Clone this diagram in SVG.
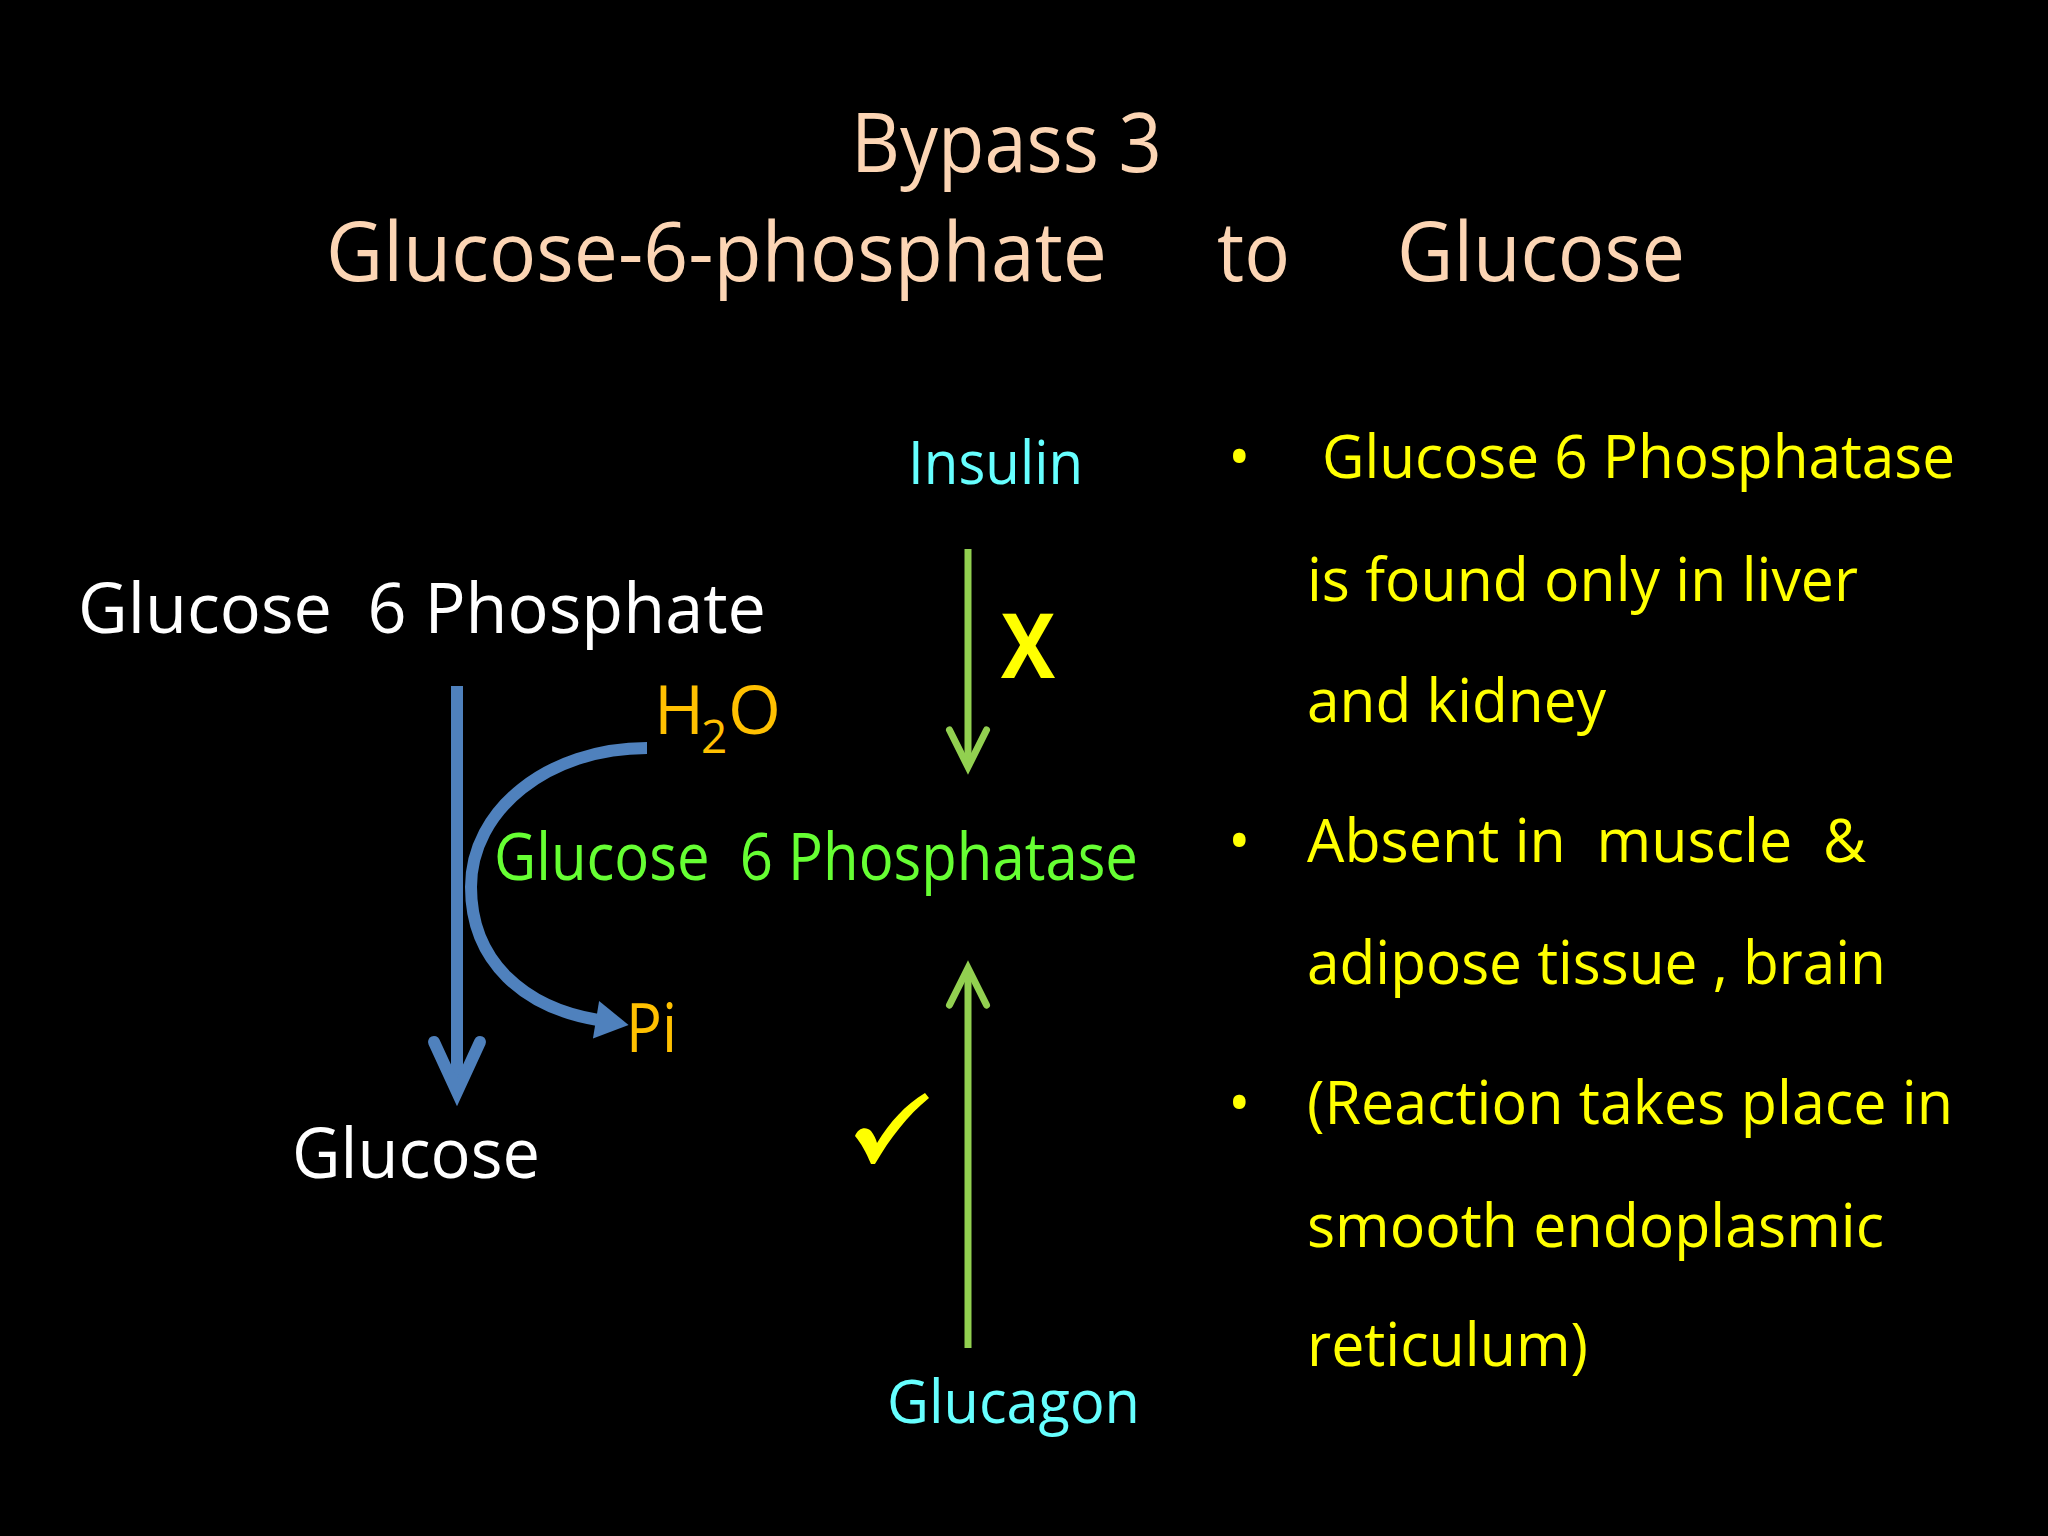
<svg xmlns="http://www.w3.org/2000/svg" width="2048" height="1536" viewBox="0 0 2048 1536">
<style>
text{font-family:"Open Sans","Noto Sans","Liberation Sans",sans-serif;white-space:pre;}
.title{fill:#FCD5B4;font-size:82px;}
.white{fill:#FFFFFF;font-size:70px;}
.orange{fill:#FFC000;font-size:68px;}
.enzyme{fill:#66FF33;font-size:66px;}
.hormone{fill:#66FFFF;font-size:61px;}
.note{fill:#FFFF00;font-size:60px;}
.blue{fill:none;stroke:#4F81BD;stroke-width:12;}
.green{fill:none;stroke:#92D050;stroke-width:7;}
</style>
<defs>
<marker id="chevBlue" markerUnits="userSpaceOnUse" orient="auto" refX="0" refY="0" markerWidth="10" markerHeight="10" overflow="visible">
<path d="M -50 -23 L 0 0 L -50 23" fill="none" stroke="#4F81BD" stroke-width="12" stroke-linecap="round" stroke-linejoin="miter"/>
</marker>
<marker id="chevGreen" markerUnits="userSpaceOnUse" orient="auto" refX="0" refY="0" markerWidth="10" markerHeight="10" overflow="visible">
<path d="M -37 -18.5 L 0 0 L -37 18.5" fill="none" stroke="#92D050" stroke-width="7" stroke-linecap="round" stroke-linejoin="miter"/>
</marker>
<marker id="triBlue" markerUnits="userSpaceOnUse" orient="auto" refX="0" refY="0" markerWidth="10" markerHeight="10" overflow="visible">
<path d="M -2 -19 L 31 0 L -2 19 Z" fill="#4F81BD"/>
</marker>
</defs>
<rect width="2048" height="1536" fill="#000000"/>

<g id="title">
<text class="title" x="851" y="172" textLength="311" lengthAdjust="spacingAndGlyphs">Bypass 3</text>
<text class="title" x="326" y="281" textLength="781" lengthAdjust="spacingAndGlyphs">Glucose-6-phosphate</text>
<text class="title" x="1217" y="281" textLength="73" lengthAdjust="spacingAndGlyphs">to</text>
<text class="title" x="1397" y="281" textLength="288" lengthAdjust="spacingAndGlyphs">Glucose</text>
</g>

<g id="connectors">
<path id="main-arrow" class="blue" d="M 457 686 L 457 1092" marker-end="url(#chevBlue)"/>
<path id="side-arrow" class="blue" d="M 647 748 C 548 748 471 810 471 887 C 471 962 525 1008 598 1020" marker-end="url(#triBlue)"/>
<path id="insulin-arrow" class="green" d="M 968 549 L 968 767" marker-end="url(#chevGreen)"/>
<path id="glucagon-arrow" class="green" d="M 968 1348 L 968 968" marker-end="url(#chevGreen)"/>
</g>

<g id="node-g6p">
<text class="white" x="78" y="633" xml:space="preserve" textLength="688" lengthAdjust="spacingAndGlyphs">Glucose  6 Phosphate</text>
</g>
<g id="node-h2o">
<text class="orange" y="734"><tspan x="654">H</tspan><tspan x="701" y="753" font-size="46">2</tspan><tspan x="728" y="734">O</tspan></text>
</g>
<g id="node-enzyme">
<text class="enzyme" x="494" y="880" xml:space="preserve" textLength="644" lengthAdjust="spacingAndGlyphs">Glucose  6 Phosphatase</text>
</g>
<g id="node-pi">
<text class="orange" x="626" y="1052" textLength="51" lengthAdjust="spacingAndGlyphs">Pi</text>
</g>
<g id="node-glucose">
<text class="white" x="292" y="1178" textLength="248" lengthAdjust="spacingAndGlyphs">Glucose</text>
</g>
<g id="node-insulin">
<text class="hormone" x="908" y="484" textLength="175" lengthAdjust="spacingAndGlyphs">Insulin</text>
</g>
<g id="node-glucagon">
<text class="hormone" x="887" y="1423" textLength="253" lengthAdjust="spacingAndGlyphs">Glucagon</text>
</g>

<g id="marks">
<text x="1001" y="678" fill="#FFFF00" font-size="90" font-weight="700" textLength="54" lengthAdjust="spacingAndGlyphs">X</text>
<path d="M 855 1136 C 858 1128 866 1126 871 1131 C 874 1135 876 1139 877 1143 C 890 1122 905 1105 925 1093 L 929 1098 C 908 1115 890 1138 875 1164 L 871 1164 C 866 1152 861 1143 855 1136 Z" fill="#FFFF00"/>
</g>

<g id="notes">
<text class="note" x="1228" y="478">•</text>
<text class="note" x="1322" y="478" textLength="633" lengthAdjust="spacingAndGlyphs">Glucose 6 Phosphatase</text>
<text class="note" x="1307" y="601" textLength="551" lengthAdjust="spacingAndGlyphs">is found only in liver</text>
<text class="note" x="1307" y="722" textLength="299" lengthAdjust="spacingAndGlyphs">and kidney</text>
<text class="note" x="1228" y="862">•</text>
<text class="note" x="1307" y="862" xml:space="preserve" textLength="559" lengthAdjust="spacingAndGlyphs">Absent in  muscle  &amp;</text>
<text class="note" x="1307" y="984" textLength="579" lengthAdjust="spacingAndGlyphs">adipose tissue , brain</text>
<text class="note" x="1228" y="1124">•</text>
<text class="note" x="1307" y="1124" textLength="646" lengthAdjust="spacingAndGlyphs">(Reaction takes place in</text>
<text class="note" x="1307" y="1247" textLength="577" lengthAdjust="spacingAndGlyphs">smooth endoplasmic</text>
<text class="note" x="1307" y="1366" textLength="281" lengthAdjust="spacingAndGlyphs">reticulum)</text>
</g>
</svg>
